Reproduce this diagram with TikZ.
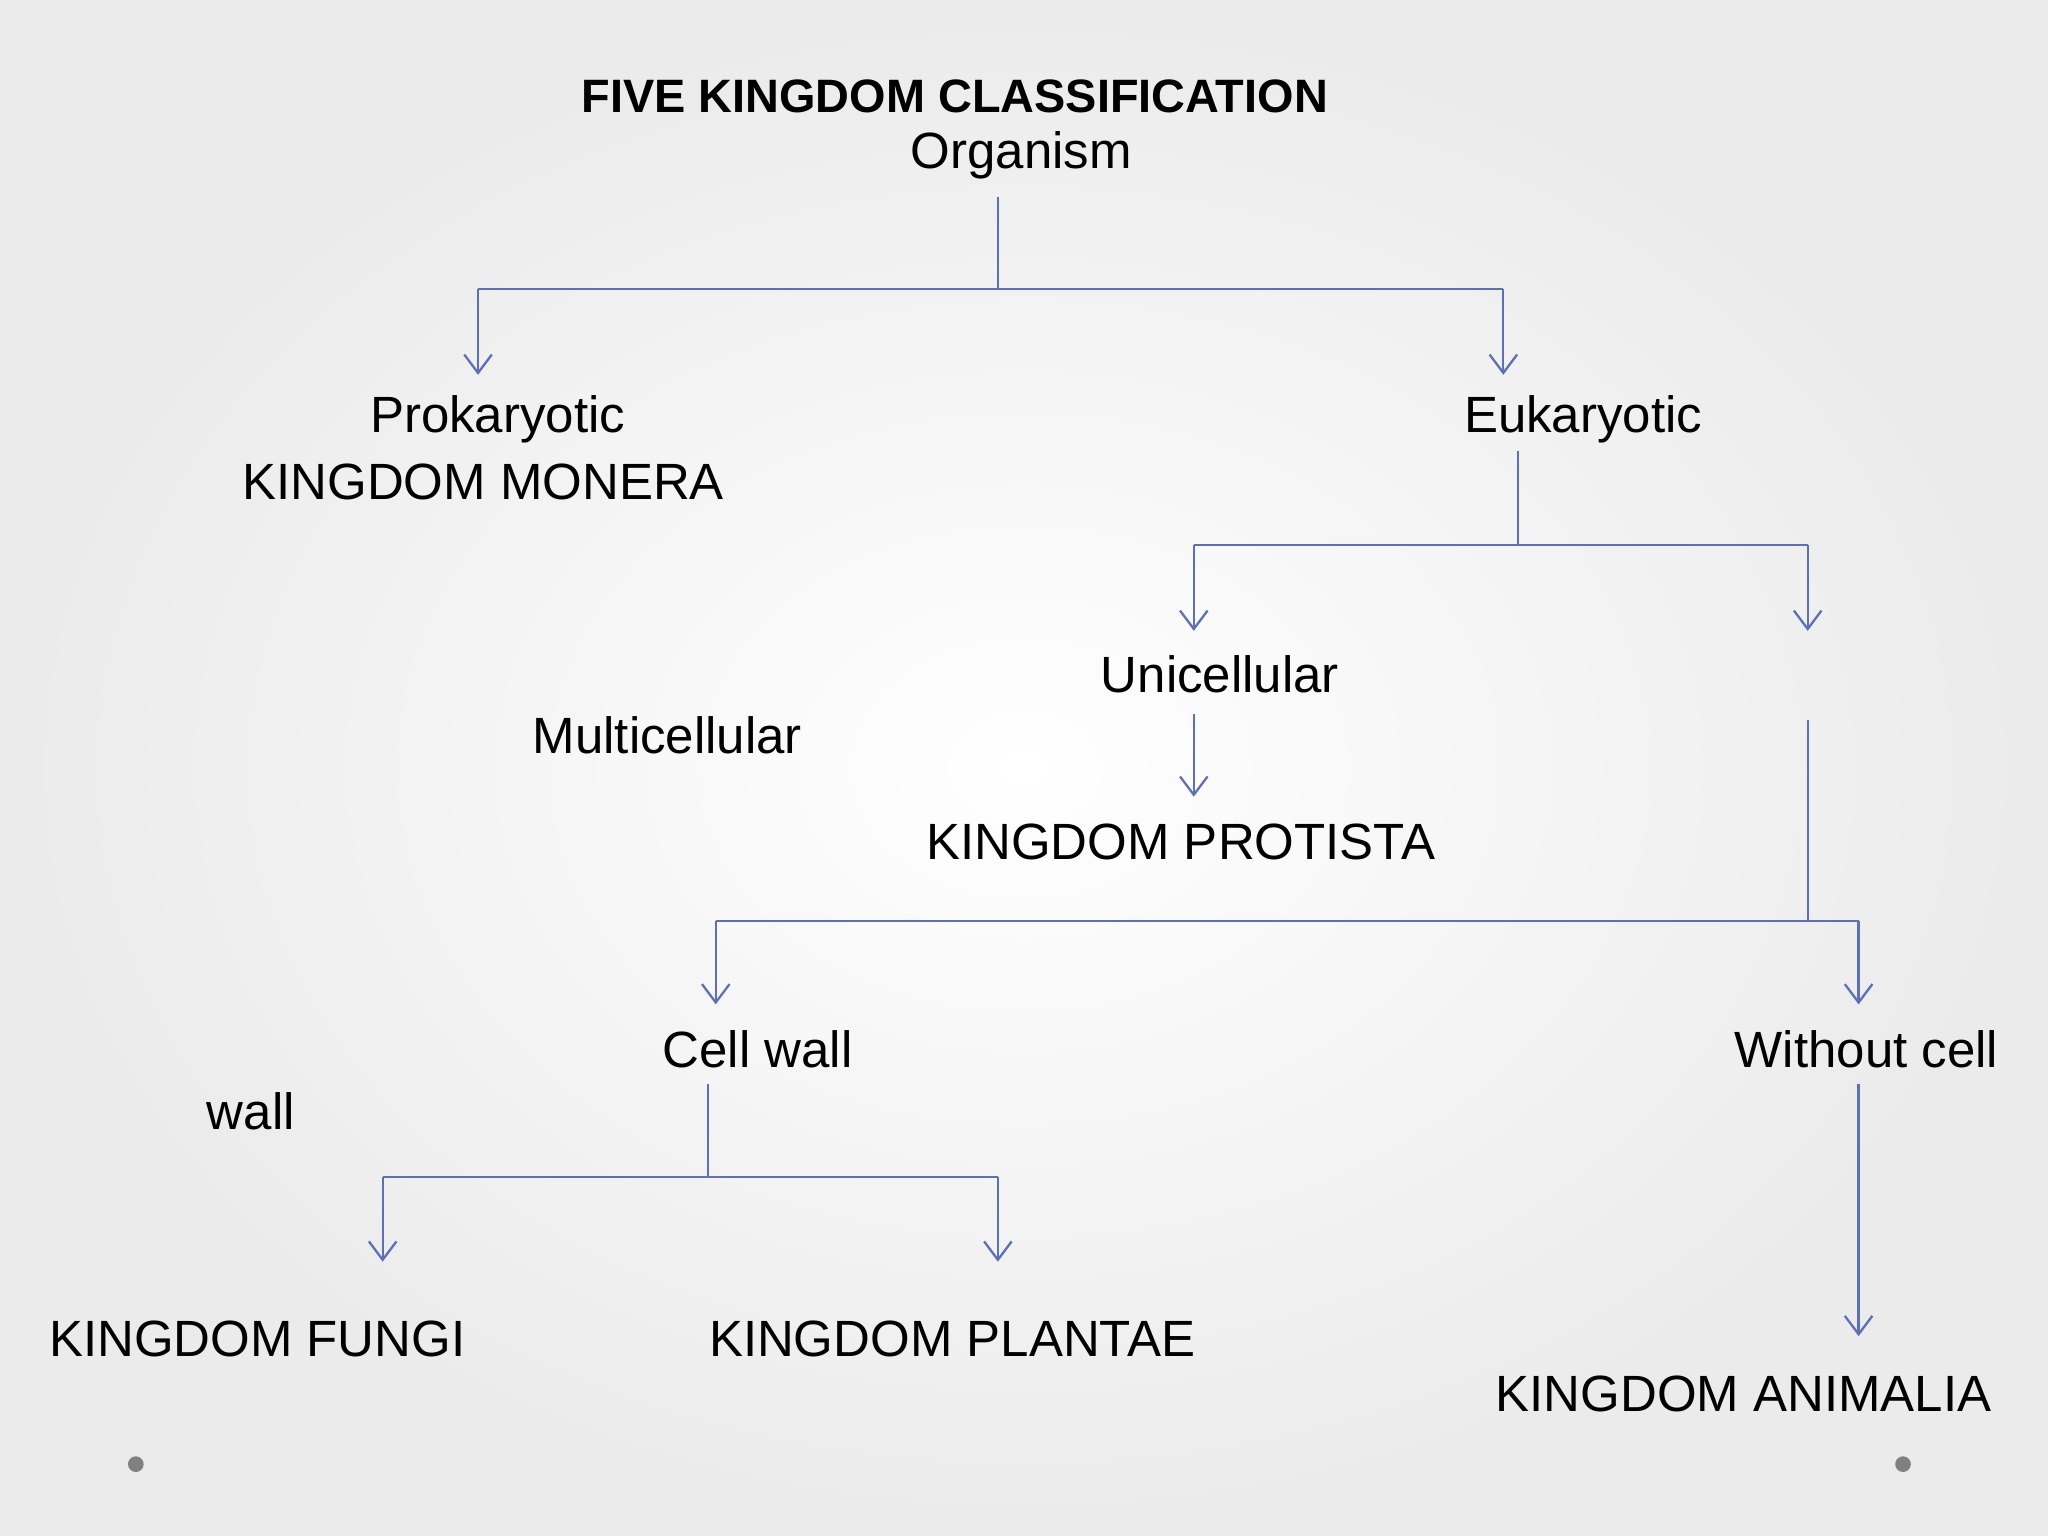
\documentclass[tikz,border=0pt]{standalone}
\usepackage{fontspec}
\setmainfont{Liberation Sans}
\usetikzlibrary{arrows.meta}
\definecolor{linkblue}{RGB}{92,112,184}
\tikzset{
  lbl/.style={font=\fontsize{11.1}{13}\selectfont, inner sep=0pt},
  link/.style={linkblue, line width=0.5pt},
  arr/.style={link, -{Straight Barb[length=4pt,width=6pt]}}
}
\begin{document}
\begin{tikzpicture}[x=0.01cm, y=-0.01cm]
        % Background
        \shade[inner color=white, outer color=black!8] (0,0) rectangle (1568,1176);
        \useasboundingbox (0,0) rectangle (1568,1176);

        % Labels
        \node[lbl, font=\fontsize{10.2}{12}\selectfont\bfseries] (title) at (731,74) {FIVE KINGDOM CLASSIFICATION};
        \node[lbl] (organism) at (782,119) {Organism};
        \node[lbl] (prok) at (381,321) {Prokaryotic};
        \node[lbl] (monera) at (370,369) {KINGDOM MONERA};
        \node[lbl] (euk) at (1212,321) {Eukaryotic};
        \node[lbl] (uni) at (934,516) {Unicellular};
        \node[lbl] (multi) at (511,563) {Multicellular};
        \node[lbl] (protista) at (904,645) {KINGDOM PROTISTA};
        \node[lbl] (cellwall) at (580,803) {Cell wall};
        \node[lbl] (wall) at (192,851) {wall};
        \node[lbl] (without) at (1429,803) {Without cell};
        \node[lbl] (fungi) at (197,1025) {KINGDOM FUNGI};
        \node[lbl] (plantae) at (729,1025) {KINGDOM PLANTAE};
        \node[lbl] (animalia) at (1335,1067) {KINGDOM ANIMALIA};

        % Branch points
        \coordinate (o1) at (764,151);  \coordinate (o2) at (764,221);
        \coordinate (o3) at (366,221);  \coordinate (o4) at (1151,221);
        \coordinate (e1) at (1162,345); \coordinate (e2) at (1162,417);
        \coordinate (e3) at (914,417);  \coordinate (e4) at (1384,417);
        \coordinate (m1) at (1384,551); \coordinate (m2) at (1384,705);
        \coordinate (m3) at (548,705);  \coordinate (m4) at (1423,705);
        \coordinate (c1) at (542,830);  \coordinate (c2) at (542,901);
        \coordinate (c3) at (293,901);  \coordinate (c4) at (764,901);

        % Organism
        \draw[link] (o1) -- (o2);
        \draw[link] (o3) -- (o4);
        \draw[arr] (o3) -- (366,287);
        \draw[arr] (o4) -- (1151,287);
        % Eukaryotic
        \draw[link] (e1) -- (e2);
        \draw[link] (e3) -- (e4);
        \draw[arr] (e3) -- (914,483);
        \draw[arr] (e4) -- (1384,483);
        \draw[arr] (914,547) -- (914,610);
        % Multicellular
        \draw[link] (m1) -- (m2);
        \draw[link] (m3) -- (m4);
        \draw[arr] (m3) -- (548,769);
        \draw[arr] (m4) -- (1423,769);
        % Cell wall
        \draw[link] (c1) -- (c2);
        \draw[link] (c3) -- (c4);
        \draw[arr] (c3) -- (293,966);
        \draw[arr] (c4) -- (764,966);
        \draw[arr] (1423,830) -- (1423,1023);

        % Dots
        \fill[black!50] (104,1121) circle (6);
        \fill[black!50] (1457,1121) circle (6);
\end{tikzpicture}
\end{document}
